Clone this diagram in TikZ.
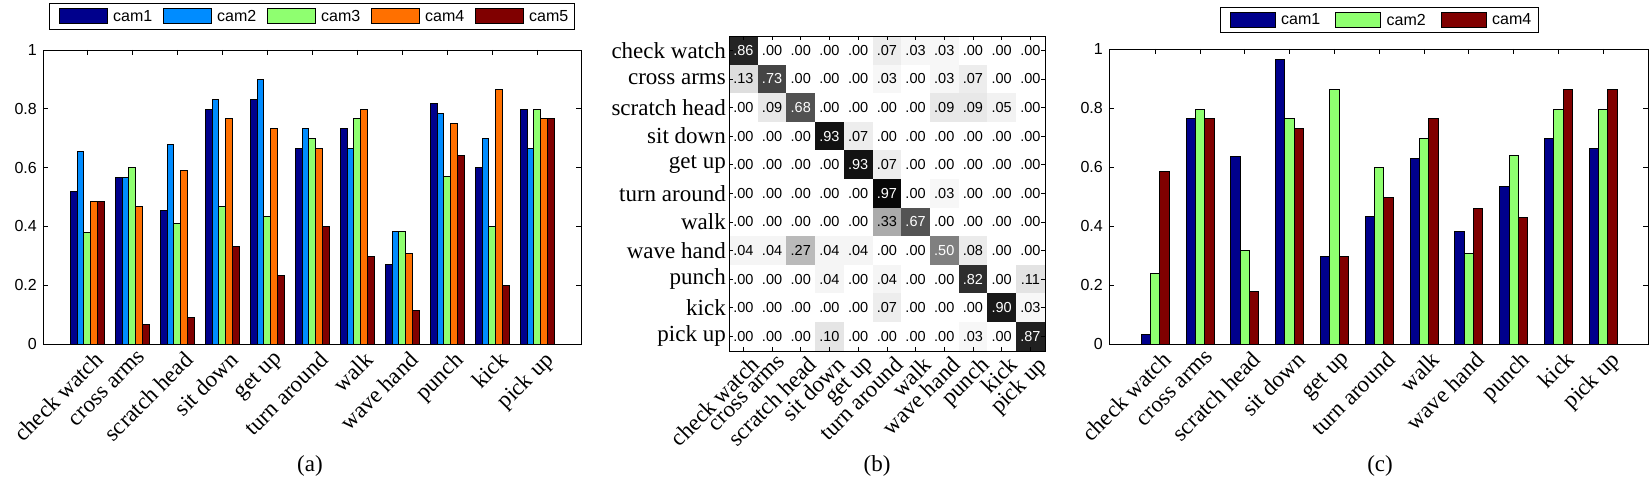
\documentclass[tikz,border=0pt]{standalone}
\usepackage{fontspec}
\setmainfont{Liberation Serif}
\newfontfamily\hv{Liberation Sans}
\begin{document}
\begin{tikzpicture}[x=1pt,y=-1pt,
  lbl/.style={font=\fontsize{23}{23}\selectfont,inner sep=0pt},
  num/.style={font=\hv\fontsize{16}{16}\selectfont,inner sep=0pt},
  bar/.style={draw=black,line width=0.5pt},
  axis/.style={draw=black,line width=0.9pt},
  tick/.style={line width=0.6pt}]
\definecolor{c1}{RGB}{0,0,140}
\definecolor{c2}{RGB}{0,140,255}
\definecolor{c3}{RGB}{143,255,112}
\definecolor{c4}{RGB}{255,112,0}
\definecolor{c5}{RGB}{128,0,0}
\useasboundingbox (0,0) rectangle (1651,481);
\fill[white] (0,0) rectangle (1651,481);
\def\names{{"check watch","cross arms","scratch head","sit down","get up","turn around","walk","wave hand","punch","kick","pick up"}}
% ---------- (a)
\foreach \g/\a/\b/\c/\d/\e [count=\i from 0] in {
 1/.52/.655/.38/.485/.485, 2/.567/.567/.60/.467/.067, 3/.455/.68/.41/.59/.09,
 4/.80/.833/.467/.767/.333, 5/.833/.90/.433/.733/.233, 6/.667/.733/.70/.667/.40,
 7/.733/.667/.767/.80/.30, 8/.27/.385/.385/.308/.115, 9/.82/.786/.571/.75/.643,
 10/.60/.70/.40/.867/.20, 11/.80/.667/.80/.767/.767}{
  \pgfmathsetmacro{\cx}{87+45*\i}
  \foreach \v/\col [count=\k from 0] in {\a/c1,\b/c2,\c/c3,\d/c4,\e/c5}{
    \filldraw[bar,fill=\col] (\cx-17+6.8*\k,344) rectangle (\cx-10.2+6.8*\k,344-294*\v);
  }
  \draw[tick] (\cx,50) -- (\cx,55);
  \pgfmathsetmacro{\nm}{\names[\i]}
  \node[lbl,rotate=45,anchor=north east] (la\g) at (\cx+6,350) {\nm};
}
\draw[axis] (43,50) rectangle (581,344);
\foreach \t/\lab in {0/0,1/0.2,2/0.4,3/0.6,4/0.8,5/1}{
  \draw[tick] (43,344-58.8*\t) -- (48,344-58.8*\t);
  \draw[tick] (581,344-58.8*\t) -- (576,344-58.8*\t);
  \node[num,anchor=east] (ya\t) at (37,344-58.8*\t) {\lab};
}
\draw[line width=0.8pt] (49,3) rectangle (574,29);
\foreach \col/\lab [count=\k from 0] in {c1/cam1,c2/cam2,c3/cam3,c4/cam4,c5/cam5}{
  \filldraw[bar,fill=\col] (59+104*\k,8.5) rectangle (107+104*\k,23.5);
  \node[num,anchor=west] (lga\k) at (113+104*\k,16) {\lab};
}
\node[lbl] (capa) at (310,466) {(a)};
% ---------- (b)
\foreach \row [count=\r from 0] in {
 {86,00,00,00,00,07,03,03,00,00,00},
 {13,73,00,00,00,03,00,03,07,00,00},
 {00,09,68,00,00,00,00,09,09,05,00},
 {00,00,00,93,07,00,00,00,00,00,00},
 {00,00,00,00,93,07,00,00,00,00,00},
 {00,00,00,00,00,97,00,03,00,00,00},
 {00,00,00,00,00,33,67,00,00,00,00},
 {04,04,27,04,04,00,00,50,08,00,00},
 {00,00,00,04,00,04,00,00,82,00,11},
 {00,00,00,00,00,07,00,00,00,90,03},
 {00,00,00,10,00,00,00,00,03,00,87}}{
  \foreach \v [count=\c from 0] in \row {
    \pgfmathtruncatemacro{\s}{1\v-100}
    \pgfmathsetmacro{\x}{729+28.7*\c}
    \pgfmathsetmacro{\y}{36+28.6*\r}
    \fill[black!\s!white] (\x,\y) rectangle (\x+28.7,\y+28.6);
    \ifnum\s>45 \def\tc{white}\else\def\tc{black}\fi
    \node[font=\hv\fontsize{14.5}{14.5}\selectfont,text=\tc,inner sep=0pt] (m\r-\c) at (\x+14.35,\y+14.3) {.\v};
  }
}
\draw[axis] (729,36) rectangle (1045,351);
\foreach \i in {0,...,10}{
  \pgfmathsetmacro{\cc}{729+28.7*\i+14.35}
  \pgfmathsetmacro{\rr}{36+28.6*\i+14.3}
  \draw[tick] (\cc,36) -- (\cc,40);
  \draw[tick] (\cc,351) -- (\cc,347);
  \draw[tick] (729,\rr) -- (733,\rr);
  \draw[tick] (1045,\rr) -- (1041,\rr);
  \pgfmathsetmacro{\nm}{\names[\i]}
  \node[lbl,anchor=east] (rl\i) at (726,\rr) {\nm};
  \node[lbl,rotate=45,anchor=north east] (cl\i) at (\cc+6,355) {\nm};
}
\node[lbl] (capb) at (877,466) {(b)};
% ---------- (c)
\foreach \g/\a/\b/\c [count=\i from 0] in {
 1/.033/.24/.587, 2/.767/.80/.767, 3/.64/.32/.18, 4/.967/.767/.733,
 5/.30/.867/.30, 6/.433/.60/.50, 7/.633/.70/.767, 8/.385/.308/.462,
 9/.536/.643/.43, 10/.70/.80/.867, 11/.667/.80/.867}{
  \pgfmathsetmacro{\cx}{1155+44.8*\i}
  \foreach \v/\col [count=\k from 0] in {\a/c1,\b/c3,\c/c5}{
    \filldraw[bar,fill=\col] (\cx-14+9.33*\k,344) rectangle (\cx-4.67+9.33*\k,344-294*\v);
  }
  \draw[tick] (\cx,49) -- (\cx,54);
  \pgfmathsetmacro{\nm}{\names[\i]}
  \node[lbl,rotate=45,anchor=north east] (lc\g) at (\cx+6,350) {\nm};
}
\draw[axis] (1109,49) rectangle (1648,344);
\foreach \t/\lab in {0/0,1/0.2,2/0.4,3/0.6,4/0.8,5/1}{
  \draw[tick] (1109,344-59*\t) -- (1114,344-59*\t);
  \draw[tick] (1648,344-59*\t) -- (1643,344-59*\t);
  \node[num,anchor=east] (yc\t) at (1103,344-59*\t) {\lab};
}
\draw[line width=0.8pt] (1220,7) rectangle (1538,32);
\foreach \col/\lab [count=\k from 0] in {c1/cam1,c3/cam2,c5/cam4}{
  \filldraw[bar,fill=\col] (1230+105.5*\k,12) rectangle (1275+105.5*\k,27);
  \node[num,anchor=west] (lgc\k) at (1281+105.5*\k,19.5) {\lab};
}
\node[lbl] (capc) at (1380,466) {(c)};
\end{tikzpicture}
\end{document}
